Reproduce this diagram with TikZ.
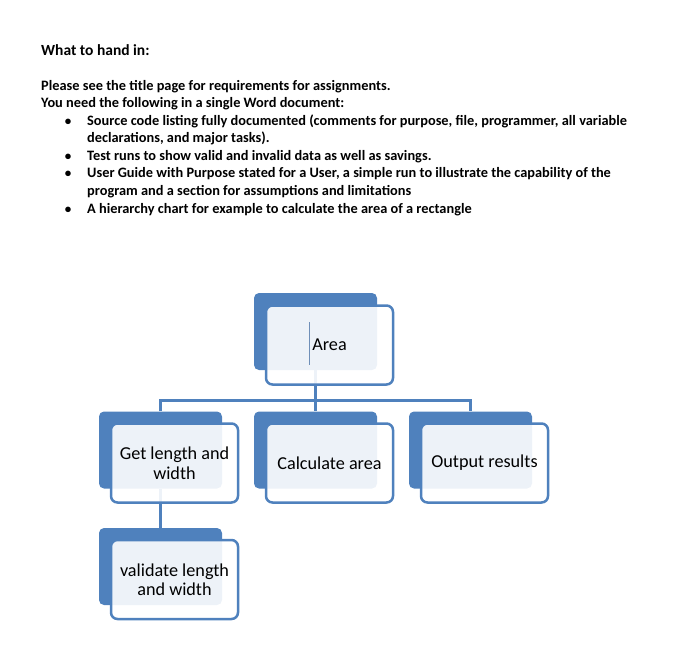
\documentclass[tikz,border=0pt]{standalone}
\usepackage{fontspec}
\setmainfont{Carlito}
\definecolor{obl}{HTML}{4F81BD}
\definecolor{cur}{HTML}{6F8FB8}
\begin{document}
\begin{tikzpicture}[x=1pt,y=-1pt,
  txt/.style={anchor=base west,inner sep=0pt,font=\fontsize{14.35}{16}\selectfont\bfseries},
  ttl/.style={anchor=base west,inner sep=0pt,font=\fontsize{15.5}{18}\selectfont\bfseries},
  bul/.style={anchor=base,inner sep=0pt,font=\fontsize{13}{15}\selectfont\bfseries},
  backbox/.style={fill=obl,draw=none,rounded corners=5pt,minimum width=123pt,minimum height=77pt,inner sep=0pt},
  frontbox/.style={fill=white,fill opacity=0.9,text opacity=1,draw=obl,line width=2.5pt,rounded corners=6.5pt,minimum width=127pt,minimum height=79pt,inner sep=0pt,align=center,font=\fontsize{18.2}{19.5}\selectfont},
  conn/.style={draw=obl,line width=3pt},
  cursor/.style={draw=cur,line width=0.8pt}]
\useasboundingbox (0,0) rectangle (700,670);
% text
\node[ttl] (t0) at (41,55) {What to hand in:};
\node[txt] (t1) at (41,90) {Please see the title page for requirements for assignments.};
\node[txt] (t2) at (41,107.5) {You need the following in a single Word document:};
\node[bul] (b1) at (68,125) {•};
\node[txt] (l1) at (87,125) {Source code listing fully documented (comments for purpose, file, programmer, all variable};
\node[txt] (l1b) at (87,142) {declarations, and major tasks).};
\node[bul] (b2) at (68,160) {•};
\node[txt] (l2) at (87,160) {Test runs to show valid and invalid data as well as savings.};
\node[bul] (b3) at (68,177.5) {•};
\node[txt] (l3) at (87,177.5) {User Guide with Purpose stated for a User, a simple run to illustrate the capability of the};
\node[txt] (l3b) at (87,195) {program and a section for assumptions and limitations};
\node[bul] (b4) at (68,213) {•};
\node[txt] (l4) at (87,213) {A hierarchy chart for example to calculate the area of a rectangle};
% back boxes
\node[backbox] (aB) at (315.5,331.5) {};
\node[backbox] (gB) at (160.5,450) {};
\node[backbox] (cB) at (315.5,450) {};
\node[backbox] (oB) at (470.5,450) {};
\node[backbox] (vB) at (160.5,566.5) {};
% connectors
\coordinate (j) at (315.5,400);
\draw[conn] (aB.south) -- (cB.north);
\draw[conn] (gB.north) |- (j) -| (oB.north);
\draw[conn] (gB.south) -- (vB.north);
% front boxes
\node[frontbox] (aF) at (329.5,345) {Area};
\node[frontbox] (gF) at (174.5,463) {Get length and\\width};
\node[frontbox] (cF) at (329.5,463) {Calculate area};
\node[frontbox] (oF) at (484.5,463) {Output results};
\node[frontbox] (vF) at (174.5,579.5) {validate length\\and width};
% text cursor
\coordinate (k1) at (309,322);
\coordinate (k2) at (309,365);
\draw[cursor] (k1) -- (k2);
\end{tikzpicture}
\end{document}
